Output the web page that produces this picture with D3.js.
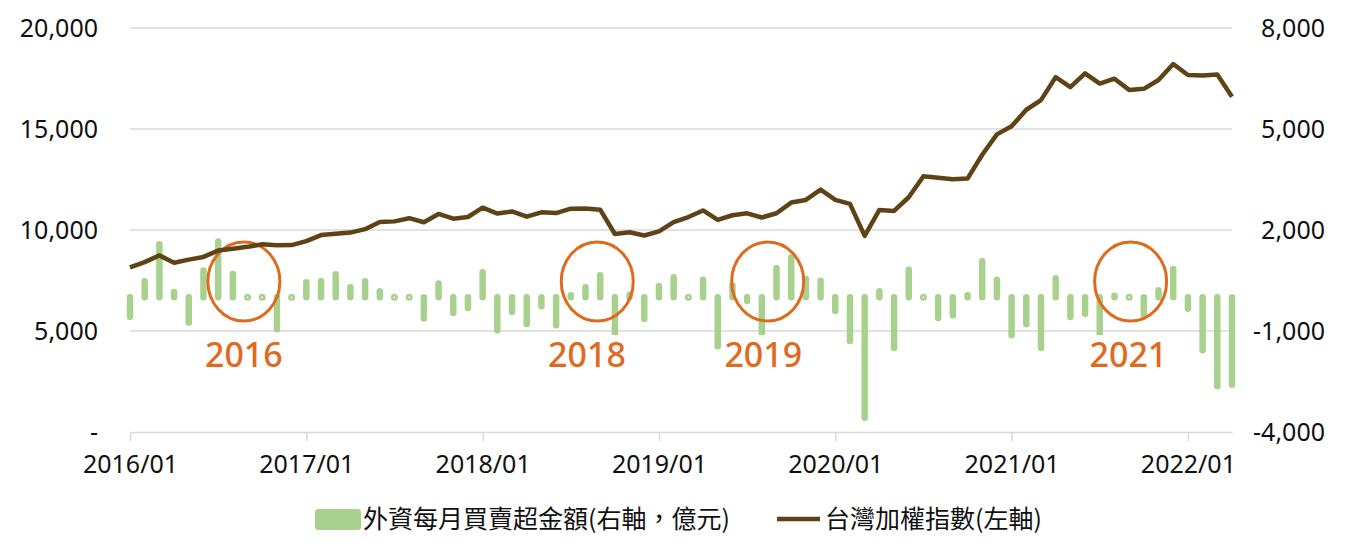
<!DOCTYPE html>
<html>
<head>
<meta charset="utf-8">
<script src="https://cdn.jsdelivr.net/npm/d3@7"></script>
<style>
  body { margin: 0; background: #fff; }
  svg text { font-family: "Noto Sans", "Noto Sans CJK TC", sans-serif; fill: #111; }
</style>
</head>
<body>
<svg id="chart" width="1350" height="555"></svg>
<script>
// monthly categories, 2016/01 .. 2022/04
const monthCount = 76;
const tickIndex = [0, 12, 24, 36, 48, 60, 72];
const tickLabels = ["2016/01", "2017/01", "2018/01", "2019/01", "2020/01", "2021/01", "2022/01"];

// 台灣加權指數 (left axis), month-end close
const taiex = [
  8145, 8411, 8744, 8377, 8535, 8667, 8984, 9069, 9166, 9290, 9240, 9254,
  9448, 9750, 9811, 9872, 10041, 10395, 10427, 10585, 10384, 10794, 10560, 10643,
  11104, 10815, 10919, 10658, 10875, 10837, 11057, 11064, 11006, 9802, 9888, 9727,
  9932, 10389, 10641, 10967, 10498, 10731, 10824, 10618, 10829, 11358, 11489, 11997,
  11495, 11292, 9708, 10992, 10943, 11621, 12665, 12592, 12516, 12546, 13723, 14733,
  15138, 15953, 16431, 17567, 17068, 17755, 17247, 17490, 16935, 16987, 17428, 18219,
  17674, 17652, 17693, 16593
];

// 外資每月買賣超金額 (right axis, 億元)
const foreignNet = [
  -580, 475, 1580, 160, -750, 800, 1660, 690, 0, 0, -950, 0,
  445, 475, 685, 300, 475, 180, 0, 0, -630, 410, -466, -318,
  742, -980, -436, -790, -267, -832, 60, 300, 653, -1900, 80, -645,
  335, 600, 0, 523, -1455, 356, -110, -1400, 870, 1188, 543, 493,
  -407, -1298, -3576, 178, -1506, 820, 0, -615, -530, 60, 1069, 523,
  -1129, -802, -1506, 564, -585, -487, -1700, 50, 0, -535, 208, 840,
  -339, -1574, -2643, -2595
];

const leftTicks = [0, 5000, 10000, 15000, 20000];
const rightTicks = [-4000, -1000, 2000, 5000, 8000];

// highlighted periods: circle centre (month index), label position (month index)
const notes = [
  { label: "2016", at: 7.75, labelAt: 7.75 },
  { label: "2018", at: 31.8, labelAt: 31.1 },
  { label: "2019", at: 43.4, labelAt: 43.1 },
  { label: "2021", at: 68.1, labelAt: 67.95 }
];

const legendLabels = ["外資每月買賣超金額(右軸，億元)", "台灣加權指數(左軸)"];

const barColor = "#a9d18e";
const lineColor = "#5e4317";
const noteColor = "#df6a1d";
const gridColor = "#d9d9d9";

const svg = d3.select("#chart");

const x = d3.scaleLinear().domain([0, monthCount - 1]).range([130, 1232]);
const yLeft = d3.scaleLinear().domain([0, 20000]).range([432, 28]);
const yRight = d3.scaleLinear().domain([-4000, 8000]).range([432, 28]);

// gridlines
svg.append("g")
  .selectAll("line")
  .data(leftTicks.filter(d => d > 0))
  .join("line")
  .attr("x1", x(0)).attr("x2", x(monthCount - 1))
  .attr("y1", d => yLeft(d)).attr("y2", d => yLeft(d))
  .attr("stroke", gridColor).attr("stroke-width", 1.5);

// x axis
const xAxis = svg.append("g")
  .attr("transform", `translate(0,${yLeft(0)})`)
  .call(d3.axisBottom(x)
    .tickValues(tickIndex)
    .tickFormat((d, i) => tickLabels[i])
    .tickSizeInner(9)
    .tickSizeOuter(0)
    .tickPadding(14));
xAxis.select(".domain").attr("stroke", gridColor).attr("stroke-width", 1.5);
xAxis.selectAll(".tick line").attr("stroke", gridColor).attr("stroke-width", 1.5);
xAxis.selectAll(".tick text").attr("font-size", 25).attr("fill", "#111");

// left axis labels
svg.append("g")
  .selectAll("text")
  .data(leftTicks)
  .join("text")
  .attr("x", 98)
  .attr("y", d => yLeft(d))
  .attr("dy", "0.35em")
  .attr("text-anchor", "end")
  .attr("font-size", 25)
  .text(d => d === 0 ? "-" : d3.format(",")(d));

// right axis labels
svg.append("g")
  .selectAll("text")
  .data(rightTicks)
  .join("text")
  .attr("x", 1325)
  .attr("y", d => yRight(d))
  .attr("dy", "0.35em")
  .attr("text-anchor", "end")
  .attr("font-size", 25)
  .text(d => d3.format(",")(d).replace("−", "-"));

// bars: rounded strokes from zero, zero months shown as a small ring
const bars = svg.append("g");
bars.selectAll("line")
  .data(foreignNet.map((v, i) => ({ i, v })).filter(d => d.v !== 0))
  .join("line")
  .attr("x1", d => x(d.i)).attr("x2", d => x(d.i))
  .attr("y1", yRight(0)).attr("y2", d => yRight(d.v))
  .attr("stroke", barColor)
  .attr("stroke-width", 6.5)
  .attr("stroke-linecap", "round");
bars.selectAll("circle")
  .data(foreignNet.map((v, i) => ({ i, v })).filter(d => d.v === 0))
  .join("circle")
  .attr("cx", d => x(d.i))
  .attr("cy", yRight(0))
  .attr("r", 2.2)
  .attr("fill", "#fff")
  .attr("stroke", barColor)
  .attr("stroke-width", 2.6);

// annotation circles
svg.append("g")
  .selectAll("ellipse")
  .data(notes)
  .join("ellipse")
  .attr("cx", d => x(d.at))
  .attr("cy", yRight(470))
  .attr("rx", 36)
  .attr("ry", 39.5)
  .attr("fill", "none")
  .attr("stroke", noteColor)
  .attr("stroke-width", 3);

// index line
svg.append("path")
  .datum(taiex)
  .attr("fill", "none")
  .attr("stroke", lineColor)
  .attr("stroke-width", 4.5)
  .attr("stroke-linejoin", "round")
  .attr("d", d3.line().x((d, i) => x(i)).y(d => yLeft(d)));

// annotation labels on white boxes
const noteLabels = svg.append("g")
  .selectAll("g")
  .data(notes)
  .join("g");
noteLabels.append("text")
  .attr("x", d => x(d.labelAt))
  .attr("y", yRight(-1000) + 36)
  .attr("text-anchor", "middle")
  .attr("font-size", 34)
  .attr("font-weight", 500)
  .style("fill", noteColor)
  .text(d => d.label);
noteLabels.each(function() {
  const g = d3.select(this);
  const b = g.select("text").node().getBBox();
  g.insert("rect", "text")
    .attr("x", b.x - 2).attr("y", b.y + 4)
    .attr("width", b.width + 4).attr("height", b.height - 6)
    .attr("fill", "#fff");
});

// legend
const legend = svg.append("g").attr("transform", "translate(0,519)");
legend.append("rect")
  .attr("x", 315).attr("y", -10)
  .attr("width", 46).attr("height", 21)
  .attr("rx", 3)
  .attr("fill", barColor);
legend.append("text")
  .attr("x", 363).attr("y", 0)
  .attr("dy", "0.35em")
  .attr("font-size", 25)
  .style("font-family", "'Noto Sans CJK TC', sans-serif")
  .text(legendLabels[0]);
legend.append("line")
  .attr("x1", 777).attr("x2", 820)
  .attr("y1", 0).attr("y2", 0)
  .attr("stroke", lineColor)
  .attr("stroke-width", 4.5);
legend.append("text")
  .attr("x", 825).attr("y", 0)
  .attr("dy", "0.35em")
  .attr("font-size", 25)
  .style("font-family", "'Noto Sans CJK TC', sans-serif")
  .text(legendLabels[1]);
</script>
</body>
</html>
